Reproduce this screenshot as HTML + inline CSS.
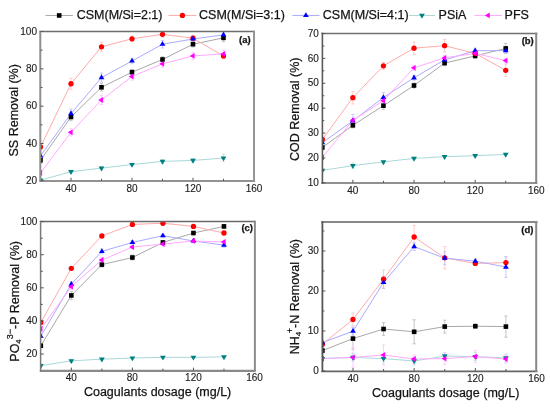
<!DOCTYPE html>
<html><head><meta charset="utf-8"><style>html,body{margin:0;padding:0;background:#fff;}body{width:550px;height:408px;position:relative;overflow:hidden;font-family:"Liberation Sans", sans-serif;}</style></head>
<body>
<svg width="550" height="408" viewBox="0 0 550 408" style="position:absolute;left:0;top:0;filter:blur(0.35px)" font-family='"Liberation Sans", sans-serif'>
<style>text{stroke:#1a1a1a;stroke-width:0.25px;}</style>
<rect width="550" height="408" fill="#fff"/>
<clipPath id="cpa"><rect x="40.5" y="31.5" width="213.5" height="149.3"/></clipPath><g clip-path="url(#cpa)">
<polyline points="40.50,160.27 71.00,116.97 101.50,87.30 132.00,72.18 162.50,59.49 193.00,44.19 223.50,37.85" fill="none" stroke="#a8a8a8" stroke-width="1"/>
<polyline points="40.50,147.02 71.00,83.76 101.50,46.80 132.00,38.78 162.50,34.30 193.00,38.22 223.50,55.95" fill="none" stroke="#ffaaaa" stroke-width="1"/>
<polyline points="40.50,155.79 71.00,113.62 101.50,77.60 132.00,60.99 162.50,44.19 193.00,38.97 223.50,34.86" fill="none" stroke="#aaaaff" stroke-width="1"/>
<polyline points="40.50,180.24 71.00,171.66 101.50,168.11 132.00,164.56 162.50,161.39 193.00,160.46 223.50,158.03" fill="none" stroke="#aad8d8" stroke-width="1"/>
<polyline points="40.50,172.96 71.00,132.28 101.50,99.99 132.00,76.48 162.50,63.79 193.00,55.95 223.50,53.89" fill="none" stroke="#ffaaff" stroke-width="1"/>
<path d="M40.50 157.47V163.07M38.90 157.47H42.10M38.90 163.07H42.10" stroke="#b8b8b8" stroke-width="0.8" fill="none"/>
<path d="M71.00 113.24V120.71M69.40 113.24H72.60M69.40 120.71H72.60" stroke="#b8b8b8" stroke-width="0.8" fill="none"/>
<path d="M101.50 83.57V91.03M99.90 83.57H103.10M99.90 91.03H103.10" stroke="#b8b8b8" stroke-width="0.8" fill="none"/>
<path d="M132.00 69.38V74.98M130.40 69.38H133.60M130.40 74.98H133.60" stroke="#b8b8b8" stroke-width="0.8" fill="none"/>
<path d="M162.50 56.69V62.29M160.90 56.69H164.10M160.90 62.29H164.10" stroke="#b8b8b8" stroke-width="0.8" fill="none"/>
<path d="M193.00 41.39V46.99M191.40 41.39H194.60M191.40 46.99H194.60" stroke="#b8b8b8" stroke-width="0.8" fill="none"/>
<path d="M223.50 34.11V41.58M221.90 34.11H225.10M221.90 41.58H225.10" stroke="#b8b8b8" stroke-width="0.8" fill="none"/>
<path d="M40.50 143.29V150.75M38.90 143.29H42.10M38.90 150.75H42.10" stroke="#ffc0c0" stroke-width="0.8" fill="none"/>
<path d="M71.00 78.16V89.35M69.40 78.16H72.60M69.40 89.35H72.60" stroke="#ffc0c0" stroke-width="0.8" fill="none"/>
<path d="M101.50 42.32V51.28M99.90 42.32H103.10M99.90 51.28H103.10" stroke="#ffc0c0" stroke-width="0.8" fill="none"/>
<path d="M132.00 35.98V41.58M130.40 35.98H133.60M130.40 41.58H133.60" stroke="#ffc0c0" stroke-width="0.8" fill="none"/>
<path d="M162.50 31.50V37.10M160.90 31.50H164.10M160.90 37.10H164.10" stroke="#ffc0c0" stroke-width="0.8" fill="none"/>
<path d="M193.00 35.42V41.02M191.40 35.42H194.60M191.40 41.02H194.60" stroke="#ffc0c0" stroke-width="0.8" fill="none"/>
<path d="M223.50 53.15V58.75M221.90 53.15H225.10M221.90 58.75H225.10" stroke="#ffc0c0" stroke-width="0.8" fill="none"/>
<path d="M40.50 152.99V158.59M38.90 152.99H42.10M38.90 158.59H42.10" stroke="#c0c0ff" stroke-width="0.8" fill="none"/>
<path d="M71.00 108.95V118.28M69.40 108.95H72.60M69.40 118.28H72.60" stroke="#c0c0ff" stroke-width="0.8" fill="none"/>
<path d="M101.50 73.12V82.08M99.90 73.12H103.10M99.90 82.08H103.10" stroke="#c0c0ff" stroke-width="0.8" fill="none"/>
<path d="M132.00 58.19V63.79M130.40 58.19H133.60M130.40 63.79H133.60" stroke="#c0c0ff" stroke-width="0.8" fill="none"/>
<path d="M162.50 40.46V47.92M160.90 40.46H164.10M160.90 47.92H164.10" stroke="#c0c0ff" stroke-width="0.8" fill="none"/>
<path d="M193.00 36.17V41.76M191.40 36.17H194.60M191.40 41.76H194.60" stroke="#c0c0ff" stroke-width="0.8" fill="none"/>
<path d="M223.50 32.06V37.66M221.90 32.06H225.10M221.90 37.66H225.10" stroke="#c0c0ff" stroke-width="0.8" fill="none"/>
<path d="M40.50 179.31V181.17M38.90 179.31H42.10M38.90 181.17H42.10" stroke="#b8e0e0" stroke-width="0.8" fill="none"/>
<path d="M71.00 170.16V173.15M69.40 170.16H72.60M69.40 173.15H72.60" stroke="#b8e0e0" stroke-width="0.8" fill="none"/>
<path d="M101.50 166.62V169.60M99.90 166.62H103.10M99.90 169.60H103.10" stroke="#b8e0e0" stroke-width="0.8" fill="none"/>
<path d="M132.00 163.07V166.06M130.40 163.07H133.60M130.40 166.06H133.60" stroke="#b8e0e0" stroke-width="0.8" fill="none"/>
<path d="M162.50 159.52V163.26M160.90 159.52H164.10M160.90 163.26H164.10" stroke="#b8e0e0" stroke-width="0.8" fill="none"/>
<path d="M193.00 158.59V162.32M191.40 158.59H194.60M191.40 162.32H194.60" stroke="#b8e0e0" stroke-width="0.8" fill="none"/>
<path d="M223.50 154.30V161.76M221.90 154.30H225.10M221.90 161.76H225.10" stroke="#b8e0e0" stroke-width="0.8" fill="none"/>
<path d="M40.50 170.16V175.76M38.90 170.16H42.10M38.90 175.76H42.10" stroke="#ffc0ff" stroke-width="0.8" fill="none"/>
<path d="M71.00 128.55V136.01M69.40 128.55H72.60M69.40 136.01H72.60" stroke="#ffc0ff" stroke-width="0.8" fill="none"/>
<path d="M101.50 95.51V104.47M99.90 95.51H103.10M99.90 104.47H103.10" stroke="#ffc0ff" stroke-width="0.8" fill="none"/>
<path d="M132.00 72.74V80.21M130.40 72.74H133.60M130.40 80.21H133.60" stroke="#ffc0ff" stroke-width="0.8" fill="none"/>
<path d="M162.50 60.05V67.52M160.90 60.05H164.10M160.90 67.52H164.10" stroke="#ffc0ff" stroke-width="0.8" fill="none"/>
<path d="M193.00 52.22V59.68M191.40 52.22H194.60M191.40 59.68H194.60" stroke="#ffc0ff" stroke-width="0.8" fill="none"/>
<path d="M223.50 50.16V57.63M221.90 50.16H225.10M221.90 57.63H225.10" stroke="#ffc0ff" stroke-width="0.8" fill="none"/>
<rect x="38.20" y="157.97" width="4.60" height="4.60" fill="#000000"/>
<rect x="68.70" y="114.67" width="4.60" height="4.60" fill="#000000"/>
<rect x="99.20" y="85.00" width="4.60" height="4.60" fill="#000000"/>
<rect x="129.70" y="69.88" width="4.60" height="4.60" fill="#000000"/>
<rect x="160.20" y="57.19" width="4.60" height="4.60" fill="#000000"/>
<rect x="190.70" y="41.89" width="4.60" height="4.60" fill="#000000"/>
<rect x="221.20" y="35.55" width="4.60" height="4.60" fill="#000000"/>
<circle cx="40.50" cy="147.02" r="2.65" fill="#ff0000"/>
<circle cx="71.00" cy="83.76" r="2.65" fill="#ff0000"/>
<circle cx="101.50" cy="46.80" r="2.65" fill="#ff0000"/>
<circle cx="132.00" cy="38.78" r="2.65" fill="#ff0000"/>
<circle cx="162.50" cy="34.30" r="2.65" fill="#ff0000"/>
<circle cx="193.00" cy="38.22" r="2.65" fill="#ff0000"/>
<circle cx="223.50" cy="55.95" r="2.65" fill="#ff0000"/>
<path d="M40.50 152.53L43.40 157.43L37.60 157.43Z" fill="#0000ff"/>
<path d="M71.00 110.35L73.90 115.25L68.10 115.25Z" fill="#0000ff"/>
<path d="M101.50 74.33L104.40 79.23L98.60 79.23Z" fill="#0000ff"/>
<path d="M132.00 57.72L134.90 62.62L129.10 62.62Z" fill="#0000ff"/>
<path d="M162.50 40.92L165.40 45.82L159.60 45.82Z" fill="#0000ff"/>
<path d="M193.00 35.70L195.90 40.60L190.10 40.60Z" fill="#0000ff"/>
<path d="M223.50 31.59L226.40 36.49L220.60 36.49Z" fill="#0000ff"/>
<path d="M40.50 183.51L43.40 178.61L37.60 178.61Z" fill="#008080"/>
<path d="M71.00 174.92L73.90 170.02L68.10 170.02Z" fill="#008080"/>
<path d="M101.50 171.38L104.40 166.48L98.60 166.48Z" fill="#008080"/>
<path d="M132.00 167.83L134.90 162.93L129.10 162.93Z" fill="#008080"/>
<path d="M162.50 164.66L165.40 159.76L159.60 159.76Z" fill="#008080"/>
<path d="M193.00 163.72L195.90 158.82L190.10 158.82Z" fill="#008080"/>
<path d="M223.50 161.30L226.40 156.40L220.60 156.40Z" fill="#008080"/>
<path d="M37.23 172.96L42.13 170.06L42.13 175.86Z" fill="#ff00ff"/>
<path d="M67.73 132.28L72.63 129.38L72.63 135.18Z" fill="#ff00ff"/>
<path d="M98.23 99.99L103.13 97.09L103.13 102.89Z" fill="#ff00ff"/>
<path d="M128.73 76.48L133.63 73.58L133.63 79.38Z" fill="#ff00ff"/>
<path d="M159.23 63.79L164.13 60.89L164.13 66.69Z" fill="#ff00ff"/>
<path d="M189.73 55.95L194.63 53.05L194.63 58.85Z" fill="#ff00ff"/>
<path d="M220.23 53.89L225.13 50.99L225.13 56.79Z" fill="#ff00ff"/>
</g>
<path d="M39.5 31.4H255" stroke="#6e6e6e" stroke-width="1.5"/>
<path d="M39.5 181H255" stroke="#929292" stroke-width="2"/>
<path d="M40.3 30.7V181.8" stroke="#8f8f8f" stroke-width="2"/>
<path d="M254 30.7V181.8" stroke="#959595" stroke-width="2"/>
<path d="M71.00 180.8V177.8" stroke="#555555" stroke-width="1"/>
<path d="M101.50 180.8V178.8" stroke="#555555" stroke-width="1"/>
<path d="M132.00 180.8V177.8" stroke="#555555" stroke-width="1"/>
<path d="M162.50 180.8V178.8" stroke="#555555" stroke-width="1"/>
<path d="M193.00 180.8V177.8" stroke="#555555" stroke-width="1"/>
<path d="M223.50 180.8V178.8" stroke="#555555" stroke-width="1"/>
<text x="71.00" y="191.50" font-size="10" text-anchor="middle" fill="#222" style="stroke-width:0.12px">40</text>
<text x="132.00" y="191.50" font-size="10" text-anchor="middle" fill="#222" style="stroke-width:0.12px">80</text>
<text x="193.00" y="191.50" font-size="10" text-anchor="middle" fill="#222" style="stroke-width:0.12px">120</text>
<text x="254.00" y="191.50" font-size="10" text-anchor="middle" fill="#222" style="stroke-width:0.12px">160</text>
<path d="M40.5 180.80H43.5" stroke="#555555" stroke-width="1"/>
<text x="37.00" y="184.00" font-size="10" text-anchor="end" fill="#222" style="stroke-width:0.12px">20</text>
<path d="M40.5 143.48H43.5" stroke="#555555" stroke-width="1"/>
<text x="37.00" y="146.68" font-size="10" text-anchor="end" fill="#222" style="stroke-width:0.12px">40</text>
<path d="M40.5 106.15H43.5" stroke="#555555" stroke-width="1"/>
<text x="37.00" y="109.35" font-size="10" text-anchor="end" fill="#222" style="stroke-width:0.12px">60</text>
<path d="M40.5 68.83H43.5" stroke="#555555" stroke-width="1"/>
<text x="37.00" y="72.03" font-size="10" text-anchor="end" fill="#222" style="stroke-width:0.12px">80</text>
<path d="M40.5 31.50H43.5" stroke="#555555" stroke-width="1"/>
<text x="37.00" y="34.70" font-size="10" text-anchor="end" fill="#222" style="stroke-width:0.12px">100</text>
<path d="M40.5 162.14H42.5" stroke="#555555" stroke-width="1"/>
<path d="M40.5 124.81H42.5" stroke="#555555" stroke-width="1"/>
<path d="M40.5 87.49H42.5" stroke="#555555" stroke-width="1"/>
<path d="M40.5 50.16H42.5" stroke="#555555" stroke-width="1"/>
<text x="250.6" y="42.6" font-size="9.5" font-weight="bold" text-anchor="end" fill="#111">(a)</text>
<clipPath id="cpb"><rect x="322.3" y="33.5" width="213.99999999999994" height="149.3"/></clipPath><g clip-path="url(#cpb)">
<polyline points="322.30,147.47 352.87,125.32 383.44,105.66 414.01,85.51 444.59,63.11 475.16,55.90 505.73,48.43" fill="none" stroke="#a8a8a8" stroke-width="1"/>
<polyline points="322.30,139.50 352.87,97.70 383.44,65.85 414.01,48.18 444.59,45.69 475.16,53.41 505.73,70.33" fill="none" stroke="#ffaaaa" stroke-width="1"/>
<polyline points="322.30,142.74 352.87,120.84 383.44,97.45 414.01,77.79 444.59,59.88 475.16,50.67 505.73,50.67" fill="none" stroke="#aaaaff" stroke-width="1"/>
<polyline points="322.30,170.36 352.87,165.63 383.44,161.90 414.01,158.41 444.59,156.67 475.16,155.68 505.73,154.43" fill="none" stroke="#aad8d8" stroke-width="1"/>
<polyline points="322.30,157.42 352.87,120.34 383.44,100.69 414.01,67.84 444.59,57.89 475.16,53.41 505.73,60.62" fill="none" stroke="#ffaaff" stroke-width="1"/>
<path d="M322.30 144.98V149.95M320.70 144.98H323.90M320.70 149.95H323.90" stroke="#b8b8b8" stroke-width="0.8" fill="none"/>
<path d="M352.87 122.83V127.81M351.27 122.83H354.47M351.27 127.81H354.47" stroke="#b8b8b8" stroke-width="0.8" fill="none"/>
<path d="M383.44 101.93V109.39M381.84 101.93H385.04M381.84 109.39H385.04" stroke="#b8b8b8" stroke-width="0.8" fill="none"/>
<path d="M414.01 83.02V87.99M412.41 83.02H415.61M412.41 87.99H415.61" stroke="#b8b8b8" stroke-width="0.8" fill="none"/>
<path d="M444.59 60.62V65.60M442.99 60.62H446.19M442.99 65.60H446.19" stroke="#b8b8b8" stroke-width="0.8" fill="none"/>
<path d="M475.16 53.41V58.38M473.56 53.41H476.76M473.56 58.38H476.76" stroke="#b8b8b8" stroke-width="0.8" fill="none"/>
<path d="M505.73 43.45V53.41M504.13 43.45H507.33M504.13 53.41H507.33" stroke="#b8b8b8" stroke-width="0.8" fill="none"/>
<path d="M322.30 137.01V141.99M320.70 137.01H323.90M320.70 141.99H323.90" stroke="#ffc0c0" stroke-width="0.8" fill="none"/>
<path d="M352.87 91.48V103.92M351.27 91.48H354.47M351.27 103.92H354.47" stroke="#ffc0c0" stroke-width="0.8" fill="none"/>
<path d="M383.44 62.12V69.58M381.84 62.12H385.04M381.84 69.58H385.04" stroke="#ffc0c0" stroke-width="0.8" fill="none"/>
<path d="M414.01 41.96V54.40M412.41 41.96H415.61M412.41 54.40H415.61" stroke="#ffc0c0" stroke-width="0.8" fill="none"/>
<path d="M444.59 39.47V51.91M442.99 39.47H446.19M442.99 51.91H446.19" stroke="#ffc0c0" stroke-width="0.8" fill="none"/>
<path d="M475.16 50.92V55.90M473.56 50.92H476.76M473.56 55.90H476.76" stroke="#ffc0c0" stroke-width="0.8" fill="none"/>
<path d="M505.73 64.11V76.55M504.13 64.11H507.33M504.13 76.55H507.33" stroke="#ffc0c0" stroke-width="0.8" fill="none"/>
<path d="M322.30 140.25V145.23M320.70 140.25H323.90M320.70 145.23H323.90" stroke="#c0c0ff" stroke-width="0.8" fill="none"/>
<path d="M352.87 114.62V127.06M351.27 114.62H354.47M351.27 127.06H354.47" stroke="#c0c0ff" stroke-width="0.8" fill="none"/>
<path d="M383.44 92.47V102.43M381.84 92.47H385.04M381.84 102.43H385.04" stroke="#c0c0ff" stroke-width="0.8" fill="none"/>
<path d="M414.01 75.30V80.28M412.41 75.30H415.61M412.41 80.28H415.61" stroke="#c0c0ff" stroke-width="0.8" fill="none"/>
<path d="M444.59 57.39V62.36M442.99 57.39H446.19M442.99 62.36H446.19" stroke="#c0c0ff" stroke-width="0.8" fill="none"/>
<path d="M475.16 48.18V53.16M473.56 48.18H476.76M473.56 53.16H476.76" stroke="#c0c0ff" stroke-width="0.8" fill="none"/>
<path d="M505.73 48.18V53.16M504.13 48.18H507.33M504.13 53.16H507.33" stroke="#c0c0ff" stroke-width="0.8" fill="none"/>
<path d="M322.30 169.11V171.60M320.70 169.11H323.90M320.70 171.60H323.90" stroke="#b8e0e0" stroke-width="0.8" fill="none"/>
<path d="M352.87 163.14V168.12M351.27 163.14H354.47M351.27 168.12H354.47" stroke="#b8e0e0" stroke-width="0.8" fill="none"/>
<path d="M383.44 160.65V163.14M381.84 160.65H385.04M381.84 163.14H385.04" stroke="#b8e0e0" stroke-width="0.8" fill="none"/>
<path d="M414.01 157.17V159.66M412.41 157.17H415.61M412.41 159.66H415.61" stroke="#b8e0e0" stroke-width="0.8" fill="none"/>
<path d="M444.59 155.43V157.92M442.99 155.43H446.19M442.99 157.92H446.19" stroke="#b8e0e0" stroke-width="0.8" fill="none"/>
<path d="M475.16 154.43V156.92M473.56 154.43H476.76M473.56 156.92H476.76" stroke="#b8e0e0" stroke-width="0.8" fill="none"/>
<path d="M505.73 153.19V155.68M504.13 153.19H507.33M504.13 155.68H507.33" stroke="#b8e0e0" stroke-width="0.8" fill="none"/>
<path d="M322.30 154.93V159.91M320.70 154.93H323.90M320.70 159.91H323.90" stroke="#ffc0ff" stroke-width="0.8" fill="none"/>
<path d="M352.87 117.85V122.83M351.27 117.85H354.47M351.27 122.83H354.47" stroke="#ffc0ff" stroke-width="0.8" fill="none"/>
<path d="M383.44 98.20V103.17M381.84 98.20H385.04M381.84 103.17H385.04" stroke="#ffc0ff" stroke-width="0.8" fill="none"/>
<path d="M414.01 65.35V70.33M412.41 65.35H415.61M412.41 70.33H415.61" stroke="#ffc0ff" stroke-width="0.8" fill="none"/>
<path d="M444.59 55.40V60.37M442.99 55.40H446.19M442.99 60.37H446.19" stroke="#ffc0ff" stroke-width="0.8" fill="none"/>
<path d="M475.16 50.92V55.90M473.56 50.92H476.76M473.56 55.90H476.76" stroke="#ffc0ff" stroke-width="0.8" fill="none"/>
<path d="M505.73 58.13V63.11M504.13 58.13H507.33M504.13 63.11H507.33" stroke="#ffc0ff" stroke-width="0.8" fill="none"/>
<rect x="320.00" y="145.17" width="4.60" height="4.60" fill="#000000"/>
<rect x="350.57" y="123.02" width="4.60" height="4.60" fill="#000000"/>
<rect x="381.14" y="103.36" width="4.60" height="4.60" fill="#000000"/>
<rect x="411.71" y="83.21" width="4.60" height="4.60" fill="#000000"/>
<rect x="442.29" y="60.81" width="4.60" height="4.60" fill="#000000"/>
<rect x="472.86" y="53.60" width="4.60" height="4.60" fill="#000000"/>
<rect x="503.43" y="46.13" width="4.60" height="4.60" fill="#000000"/>
<circle cx="322.30" cy="139.50" r="2.65" fill="#ff0000"/>
<circle cx="352.87" cy="97.70" r="2.65" fill="#ff0000"/>
<circle cx="383.44" cy="65.85" r="2.65" fill="#ff0000"/>
<circle cx="414.01" cy="48.18" r="2.65" fill="#ff0000"/>
<circle cx="444.59" cy="45.69" r="2.65" fill="#ff0000"/>
<circle cx="475.16" cy="53.41" r="2.65" fill="#ff0000"/>
<circle cx="505.73" cy="70.33" r="2.65" fill="#ff0000"/>
<path d="M322.30 139.47L325.20 144.37L319.40 144.37Z" fill="#0000ff"/>
<path d="M352.87 117.57L355.77 122.47L349.97 122.47Z" fill="#0000ff"/>
<path d="M383.44 94.18L386.34 99.08L380.54 99.08Z" fill="#0000ff"/>
<path d="M414.01 74.53L416.91 79.43L411.11 79.43Z" fill="#0000ff"/>
<path d="M444.59 56.61L447.49 61.51L441.69 61.51Z" fill="#0000ff"/>
<path d="M475.16 47.40L478.06 52.30L472.26 52.30Z" fill="#0000ff"/>
<path d="M505.73 47.40L508.63 52.30L502.83 52.30Z" fill="#0000ff"/>
<path d="M322.30 173.63L325.20 168.73L319.40 168.73Z" fill="#008080"/>
<path d="M352.87 168.90L355.77 164.00L349.97 164.00Z" fill="#008080"/>
<path d="M383.44 165.16L386.34 160.26L380.54 160.26Z" fill="#008080"/>
<path d="M414.01 161.68L416.91 156.78L411.11 156.78Z" fill="#008080"/>
<path d="M444.59 159.94L447.49 155.04L441.69 155.04Z" fill="#008080"/>
<path d="M475.16 158.94L478.06 154.04L472.26 154.04Z" fill="#008080"/>
<path d="M505.73 157.70L508.63 152.80L502.83 152.80Z" fill="#008080"/>
<path d="M319.03 157.42L323.93 154.52L323.93 160.32Z" fill="#ff00ff"/>
<path d="M349.60 120.34L354.50 117.44L354.50 123.24Z" fill="#ff00ff"/>
<path d="M380.18 100.69L385.08 97.78L385.08 103.59Z" fill="#ff00ff"/>
<path d="M410.75 67.84L415.65 64.94L415.65 70.74Z" fill="#ff00ff"/>
<path d="M441.32 57.89L446.22 54.99L446.22 60.79Z" fill="#ff00ff"/>
<path d="M471.89 53.41L476.79 50.51L476.79 56.31Z" fill="#ff00ff"/>
<path d="M502.46 60.62L507.36 57.72L507.36 63.52Z" fill="#ff00ff"/>
</g>
<path d="M321.3 33.5H537.3" stroke="#707070" stroke-width="1.7"/>
<path d="M321.3 182.9H537.3" stroke="#909090" stroke-width="2"/>
<path d="M322.4 32.7V183.8" stroke="#5a5a5a" stroke-width="1.6"/>
<path d="M536.2 32.7V183.8" stroke="#888888" stroke-width="2"/>
<path d="M352.87 182.8V179.8" stroke="#555555" stroke-width="1"/>
<path d="M383.44 182.8V180.8" stroke="#555555" stroke-width="1"/>
<path d="M414.01 182.8V179.8" stroke="#555555" stroke-width="1"/>
<path d="M444.59 182.8V180.8" stroke="#555555" stroke-width="1"/>
<path d="M475.16 182.8V179.8" stroke="#555555" stroke-width="1"/>
<path d="M505.73 182.8V180.8" stroke="#555555" stroke-width="1"/>
<text x="352.87" y="193.50" font-size="10" text-anchor="middle" fill="#222" style="stroke-width:0.12px">40</text>
<text x="414.01" y="193.50" font-size="10" text-anchor="middle" fill="#222" style="stroke-width:0.12px">80</text>
<text x="475.16" y="193.50" font-size="10" text-anchor="middle" fill="#222" style="stroke-width:0.12px">120</text>
<text x="536.30" y="193.50" font-size="10" text-anchor="middle" fill="#222" style="stroke-width:0.12px">160</text>
<path d="M322.3 182.80H325.3" stroke="#555555" stroke-width="1"/>
<text x="318.80" y="186.00" font-size="10" text-anchor="end" fill="#222" style="stroke-width:0.12px">10</text>
<path d="M322.3 157.92H325.3" stroke="#555555" stroke-width="1"/>
<text x="318.80" y="161.12" font-size="10" text-anchor="end" fill="#222" style="stroke-width:0.12px">20</text>
<path d="M322.3 133.03H325.3" stroke="#555555" stroke-width="1"/>
<text x="318.80" y="136.23" font-size="10" text-anchor="end" fill="#222" style="stroke-width:0.12px">30</text>
<path d="M322.3 108.15H325.3" stroke="#555555" stroke-width="1"/>
<text x="318.80" y="111.35" font-size="10" text-anchor="end" fill="#222" style="stroke-width:0.12px">40</text>
<path d="M322.3 83.27H325.3" stroke="#555555" stroke-width="1"/>
<text x="318.80" y="86.47" font-size="10" text-anchor="end" fill="#222" style="stroke-width:0.12px">50</text>
<path d="M322.3 58.38H325.3" stroke="#555555" stroke-width="1"/>
<text x="318.80" y="61.58" font-size="10" text-anchor="end" fill="#222" style="stroke-width:0.12px">60</text>
<path d="M322.3 33.50H325.3" stroke="#555555" stroke-width="1"/>
<text x="318.80" y="36.70" font-size="10" text-anchor="end" fill="#222" style="stroke-width:0.12px">70</text>
<path d="M322.3 170.36H324.3" stroke="#555555" stroke-width="1"/>
<path d="M322.3 145.48H324.3" stroke="#555555" stroke-width="1"/>
<path d="M322.3 120.59H324.3" stroke="#555555" stroke-width="1"/>
<path d="M322.3 95.71H324.3" stroke="#555555" stroke-width="1"/>
<path d="M322.3 70.83H324.3" stroke="#555555" stroke-width="1"/>
<path d="M322.3 45.94H324.3" stroke="#555555" stroke-width="1"/>
<text x="533.8" y="43.6" font-size="9.5" font-weight="bold" text-anchor="end" fill="#111">(b)</text>
<clipPath id="cpc"><rect x="40.8" y="221.6" width="213.7" height="149.00000000000003"/></clipPath><g clip-path="url(#cpc)">
<polyline points="40.80,345.77 71.33,295.44 101.86,264.64 132.39,257.53 162.91,242.46 193.44,233.02 223.97,226.40" fill="none" stroke="#a8a8a8" stroke-width="1"/>
<polyline points="40.80,322.42 71.33,268.29 101.86,236.00 132.39,224.41 162.91,223.26 193.44,226.40 223.97,233.02" fill="none" stroke="#ffaaaa" stroke-width="1"/>
<polyline points="40.80,336.33 71.33,284.18 101.86,251.40 132.39,242.46 162.91,235.67 193.44,240.97 223.97,245.11" fill="none" stroke="#aaaaff" stroke-width="1"/>
<polyline points="40.80,365.63 71.33,360.83 101.86,359.18 132.39,358.02 162.91,357.36 193.44,357.36 223.97,356.86" fill="none" stroke="#aad8d8" stroke-width="1"/>
<polyline points="40.80,328.88 71.33,286.66 101.86,260.01 132.39,247.10 162.91,244.12 193.44,240.97 223.97,241.96" fill="none" stroke="#ffaaff" stroke-width="1"/>
<path d="M40.80 344.11V347.42M39.20 344.11H42.40M39.20 347.42H42.40" stroke="#b8b8b8" stroke-width="0.8" fill="none"/>
<path d="M71.33 291.30V299.58M69.73 291.30H72.93M69.73 299.58H72.93" stroke="#b8b8b8" stroke-width="0.8" fill="none"/>
<path d="M101.86 262.16V267.13M100.26 262.16H103.46M100.26 267.13H103.46" stroke="#b8b8b8" stroke-width="0.8" fill="none"/>
<path d="M132.39 255.04V260.01M130.79 255.04H133.99M130.79 260.01H133.99" stroke="#b8b8b8" stroke-width="0.8" fill="none"/>
<path d="M162.91 240.80V244.12M161.31 240.80H164.51M161.31 244.12H164.51" stroke="#b8b8b8" stroke-width="0.8" fill="none"/>
<path d="M193.44 231.37V234.68M191.84 231.37H195.04M191.84 234.68H195.04" stroke="#b8b8b8" stroke-width="0.8" fill="none"/>
<path d="M223.97 224.75V228.06M222.37 224.75H225.57M222.37 228.06H225.57" stroke="#b8b8b8" stroke-width="0.8" fill="none"/>
<path d="M40.80 320.77V324.08M39.20 320.77H42.40M39.20 324.08H42.40" stroke="#ffc0c0" stroke-width="0.8" fill="none"/>
<path d="M71.33 266.63V269.94M69.73 266.63H72.93M69.73 269.94H72.93" stroke="#ffc0c0" stroke-width="0.8" fill="none"/>
<path d="M101.86 234.35V237.66M100.26 234.35H103.46M100.26 237.66H103.46" stroke="#ffc0c0" stroke-width="0.8" fill="none"/>
<path d="M132.39 222.76V226.07M130.79 222.76H133.99M130.79 226.07H133.99" stroke="#ffc0c0" stroke-width="0.8" fill="none"/>
<path d="M162.91 221.60V224.91M161.31 221.60H164.51M161.31 224.91H164.51" stroke="#ffc0c0" stroke-width="0.8" fill="none"/>
<path d="M193.44 224.75V228.06M191.84 224.75H195.04M191.84 228.06H195.04" stroke="#ffc0c0" stroke-width="0.8" fill="none"/>
<path d="M223.97 231.37V234.68M222.37 231.37H225.57M222.37 234.68H225.57" stroke="#ffc0c0" stroke-width="0.8" fill="none"/>
<path d="M40.80 334.67V337.99M39.20 334.67H42.40M39.20 337.99H42.40" stroke="#c0c0ff" stroke-width="0.8" fill="none"/>
<path d="M71.33 281.70V286.66M69.73 281.70H72.93M69.73 286.66H72.93" stroke="#c0c0ff" stroke-width="0.8" fill="none"/>
<path d="M101.86 248.92V253.88M100.26 248.92H103.46M100.26 253.88H103.46" stroke="#c0c0ff" stroke-width="0.8" fill="none"/>
<path d="M132.39 240.80V244.12M130.79 240.80H133.99M130.79 244.12H133.99" stroke="#c0c0ff" stroke-width="0.8" fill="none"/>
<path d="M162.91 234.02V237.33M161.31 234.02H164.51M161.31 237.33H164.51" stroke="#c0c0ff" stroke-width="0.8" fill="none"/>
<path d="M193.44 239.31V242.63M191.84 239.31H195.04M191.84 242.63H195.04" stroke="#c0c0ff" stroke-width="0.8" fill="none"/>
<path d="M223.97 242.63V247.59M222.37 242.63H225.57M222.37 247.59H225.57" stroke="#c0c0ff" stroke-width="0.8" fill="none"/>
<path d="M40.80 363.98V367.29M39.20 363.98H42.40M39.20 367.29H42.40" stroke="#b8e0e0" stroke-width="0.8" fill="none"/>
<path d="M71.33 359.18V362.49M69.73 359.18H72.93M69.73 362.49H72.93" stroke="#b8e0e0" stroke-width="0.8" fill="none"/>
<path d="M101.86 358.35V360.00M100.26 358.35H103.46M100.26 360.00H103.46" stroke="#b8e0e0" stroke-width="0.8" fill="none"/>
<path d="M132.39 357.19V358.85M130.79 357.19H133.99M130.79 358.85H133.99" stroke="#b8e0e0" stroke-width="0.8" fill="none"/>
<path d="M162.91 356.53V358.18M161.31 356.53H164.51M161.31 358.18H164.51" stroke="#b8e0e0" stroke-width="0.8" fill="none"/>
<path d="M193.44 356.53V358.18M191.84 356.53H195.04M191.84 358.18H195.04" stroke="#b8e0e0" stroke-width="0.8" fill="none"/>
<path d="M223.97 356.03V357.69M222.37 356.03H225.57M222.37 357.69H225.57" stroke="#b8e0e0" stroke-width="0.8" fill="none"/>
<path d="M40.80 327.22V330.54M39.20 327.22H42.40M39.20 330.54H42.40" stroke="#ffc0ff" stroke-width="0.8" fill="none"/>
<path d="M71.33 284.18V289.15M69.73 284.18H72.93M69.73 289.15H72.93" stroke="#ffc0ff" stroke-width="0.8" fill="none"/>
<path d="M101.86 257.53V262.49M100.26 257.53H103.46M100.26 262.49H103.46" stroke="#ffc0ff" stroke-width="0.8" fill="none"/>
<path d="M132.39 245.44V248.75M130.79 245.44H133.99M130.79 248.75H133.99" stroke="#ffc0ff" stroke-width="0.8" fill="none"/>
<path d="M162.91 242.46V245.77M161.31 242.46H164.51M161.31 245.77H164.51" stroke="#ffc0ff" stroke-width="0.8" fill="none"/>
<path d="M193.44 239.31V242.63M191.84 239.31H195.04M191.84 242.63H195.04" stroke="#ffc0ff" stroke-width="0.8" fill="none"/>
<path d="M223.97 240.31V243.62M222.37 240.31H225.57M222.37 243.62H225.57" stroke="#ffc0ff" stroke-width="0.8" fill="none"/>
<rect x="38.50" y="343.47" width="4.60" height="4.60" fill="#000000"/>
<rect x="69.03" y="293.14" width="4.60" height="4.60" fill="#000000"/>
<rect x="99.56" y="262.34" width="4.60" height="4.60" fill="#000000"/>
<rect x="130.09" y="255.23" width="4.60" height="4.60" fill="#000000"/>
<rect x="160.61" y="240.16" width="4.60" height="4.60" fill="#000000"/>
<rect x="191.14" y="230.72" width="4.60" height="4.60" fill="#000000"/>
<rect x="221.67" y="224.10" width="4.60" height="4.60" fill="#000000"/>
<circle cx="40.80" cy="322.42" r="2.65" fill="#ff0000"/>
<circle cx="71.33" cy="268.29" r="2.65" fill="#ff0000"/>
<circle cx="101.86" cy="236.00" r="2.65" fill="#ff0000"/>
<circle cx="132.39" cy="224.41" r="2.65" fill="#ff0000"/>
<circle cx="162.91" cy="223.26" r="2.65" fill="#ff0000"/>
<circle cx="193.44" cy="226.40" r="2.65" fill="#ff0000"/>
<circle cx="223.97" cy="233.02" r="2.65" fill="#ff0000"/>
<path d="M40.80 333.06L43.70 337.96L37.90 337.96Z" fill="#0000ff"/>
<path d="M71.33 280.91L74.23 285.81L68.43 285.81Z" fill="#0000ff"/>
<path d="M101.86 248.13L104.76 253.03L98.96 253.03Z" fill="#0000ff"/>
<path d="M132.39 239.19L135.29 244.09L129.49 244.09Z" fill="#0000ff"/>
<path d="M162.91 232.41L165.81 237.31L160.01 237.31Z" fill="#0000ff"/>
<path d="M193.44 237.70L196.34 242.60L190.54 242.60Z" fill="#0000ff"/>
<path d="M223.97 241.84L226.87 246.74L221.07 246.74Z" fill="#0000ff"/>
<path d="M40.80 368.90L43.70 364.00L37.90 364.00Z" fill="#008080"/>
<path d="M71.33 364.10L74.23 359.20L68.43 359.20Z" fill="#008080"/>
<path d="M101.86 362.44L104.76 357.54L98.96 357.54Z" fill="#008080"/>
<path d="M132.39 361.28L135.29 356.38L129.49 356.38Z" fill="#008080"/>
<path d="M162.91 360.62L165.81 355.72L160.01 355.72Z" fill="#008080"/>
<path d="M193.44 360.62L196.34 355.72L190.54 355.72Z" fill="#008080"/>
<path d="M223.97 360.13L226.87 355.23L221.07 355.23Z" fill="#008080"/>
<path d="M37.53 328.88L42.43 325.98L42.43 331.78Z" fill="#ff00ff"/>
<path d="M68.06 286.66L72.96 283.76L72.96 289.56Z" fill="#ff00ff"/>
<path d="M98.59 260.01L103.49 257.11L103.49 262.91Z" fill="#ff00ff"/>
<path d="M129.12 247.10L134.02 244.20L134.02 250.00Z" fill="#ff00ff"/>
<path d="M159.65 244.12L164.55 241.22L164.55 247.02Z" fill="#ff00ff"/>
<path d="M190.18 240.97L195.08 238.07L195.08 243.87Z" fill="#ff00ff"/>
<path d="M220.70 241.96L225.60 239.06L225.60 244.86Z" fill="#ff00ff"/>
</g>
<path d="M39.8 221.4H255.5" stroke="#6a6a6a" stroke-width="1.5"/>
<path d="M39.8 370.8H255.5" stroke="#8a8a8a" stroke-width="2.2"/>
<path d="M40.6 220.79999999999998V371.6" stroke="#7a7a7a" stroke-width="1.5"/>
<path d="M254.9 220.79999999999998V371.6" stroke="#8c8c8c" stroke-width="2"/>
<path d="M71.33 370.6V367.6" stroke="#555555" stroke-width="1"/>
<path d="M101.86 370.6V368.6" stroke="#555555" stroke-width="1"/>
<path d="M132.39 370.6V367.6" stroke="#555555" stroke-width="1"/>
<path d="M162.91 370.6V368.6" stroke="#555555" stroke-width="1"/>
<path d="M193.44 370.6V367.6" stroke="#555555" stroke-width="1"/>
<path d="M223.97 370.6V368.6" stroke="#555555" stroke-width="1"/>
<text x="71.33" y="381.30" font-size="10" text-anchor="middle" fill="#222" style="stroke-width:0.12px">40</text>
<text x="132.39" y="381.30" font-size="10" text-anchor="middle" fill="#222" style="stroke-width:0.12px">80</text>
<text x="193.44" y="381.30" font-size="10" text-anchor="middle" fill="#222" style="stroke-width:0.12px">120</text>
<text x="254.50" y="381.30" font-size="10" text-anchor="middle" fill="#222" style="stroke-width:0.12px">160</text>
<path d="M40.8 354.04H43.8" stroke="#555555" stroke-width="1"/>
<text x="37.30" y="357.24" font-size="10" text-anchor="end" fill="#222" style="stroke-width:0.12px">20</text>
<path d="M40.8 320.93H43.8" stroke="#555555" stroke-width="1"/>
<text x="37.30" y="324.13" font-size="10" text-anchor="end" fill="#222" style="stroke-width:0.12px">40</text>
<path d="M40.8 287.82H43.8" stroke="#555555" stroke-width="1"/>
<text x="37.30" y="291.02" font-size="10" text-anchor="end" fill="#222" style="stroke-width:0.12px">60</text>
<path d="M40.8 254.71H43.8" stroke="#555555" stroke-width="1"/>
<text x="37.30" y="257.91" font-size="10" text-anchor="end" fill="#222" style="stroke-width:0.12px">80</text>
<path d="M40.8 221.60H43.8" stroke="#555555" stroke-width="1"/>
<text x="37.30" y="224.80" font-size="10" text-anchor="end" fill="#222" style="stroke-width:0.12px">100</text>
<path d="M40.8 337.49H42.8" stroke="#555555" stroke-width="1"/>
<path d="M40.8 304.38H42.8" stroke="#555555" stroke-width="1"/>
<path d="M40.8 271.27H42.8" stroke="#555555" stroke-width="1"/>
<path d="M40.8 238.16H42.8" stroke="#555555" stroke-width="1"/>
<text x="253.0" y="231.4" font-size="9.5" font-weight="bold" text-anchor="end" fill="#111">(c)</text>
<clipPath id="cpd"><rect x="322.4" y="222" width="214.10000000000002" height="149"/></clipPath><g clip-path="url(#cpd)">
<polyline points="322.40,350.60 352.99,338.60 383.57,329.00 414.16,331.80 444.74,326.60 475.33,326.20 505.91,326.60" fill="none" stroke="#a8a8a8" stroke-width="1"/>
<polyline points="322.40,344.20 352.99,319.40 383.57,279.20 414.16,237.00 444.74,257.80 475.33,263.40 505.91,262.60" fill="none" stroke="#ffaaaa" stroke-width="1"/>
<polyline points="322.40,342.60 352.99,331.20 383.57,282.40 414.16,246.60 444.74,258.20 475.33,261.20 505.91,267.00" fill="none" stroke="#aaaaff" stroke-width="1"/>
<polyline points="322.40,358.60 352.99,357.40 383.57,358.60 414.16,361.00 444.74,356.00 475.33,356.60 505.91,358.00" fill="none" stroke="#aad8d8" stroke-width="1"/>
<polyline points="322.40,358.60 352.99,357.40 383.57,355.00 414.16,359.00 444.74,358.60 475.33,356.60 505.91,359.00" fill="none" stroke="#ffaaff" stroke-width="1"/>
<path d="M322.40 347.40V353.80M320.80 347.40H324.00M320.80 353.80H324.00" stroke="#b8b8b8" stroke-width="0.8" fill="none"/>
<path d="M352.99 327.80V349.40M351.39 327.80H354.59M351.39 349.40H354.59" stroke="#b8b8b8" stroke-width="0.8" fill="none"/>
<path d="M383.57 322.60V335.40M381.97 322.60H385.17M381.97 335.40H385.17" stroke="#b8b8b8" stroke-width="0.8" fill="none"/>
<path d="M414.16 319.80V343.80M412.56 319.80H415.76M412.56 343.80H415.76" stroke="#b8b8b8" stroke-width="0.8" fill="none"/>
<path d="M444.74 320.20V333.00M443.14 320.20H446.34M443.14 333.00H446.34" stroke="#b8b8b8" stroke-width="0.8" fill="none"/>
<path d="M475.33 324.20V328.20M473.73 324.20H476.93M473.73 328.20H476.93" stroke="#b8b8b8" stroke-width="0.8" fill="none"/>
<path d="M505.91 316.00V337.20M504.31 316.00H507.51M504.31 337.20H507.51" stroke="#b8b8b8" stroke-width="0.8" fill="none"/>
<path d="M322.40 341.00V347.40M320.80 341.00H324.00M320.80 347.40H324.00" stroke="#ffc0c0" stroke-width="0.8" fill="none"/>
<path d="M352.99 313.00V325.80M351.39 313.00H354.59M351.39 325.80H354.59" stroke="#ffc0c0" stroke-width="0.8" fill="none"/>
<path d="M383.57 270.00V288.40M381.97 270.00H385.17M381.97 288.40H385.17" stroke="#ffc0c0" stroke-width="0.8" fill="none"/>
<path d="M414.16 225.40V248.60M412.56 225.40H415.76M412.56 248.60H415.76" stroke="#ffc0c0" stroke-width="0.8" fill="none"/>
<path d="M444.74 246.60V269.00M443.14 246.60H446.34M443.14 269.00H446.34" stroke="#ffc0c0" stroke-width="0.8" fill="none"/>
<path d="M475.33 261.40V265.40M473.73 261.40H476.93M473.73 265.40H476.93" stroke="#ffc0c0" stroke-width="0.8" fill="none"/>
<path d="M505.91 256.60V268.60M504.31 256.60H507.51M504.31 268.60H507.51" stroke="#ffc0c0" stroke-width="0.8" fill="none"/>
<path d="M322.40 339.40V345.80M320.80 339.40H324.00M320.80 345.80H324.00" stroke="#c0c0ff" stroke-width="0.8" fill="none"/>
<path d="M352.99 327.20V335.20M351.39 327.20H354.59M351.39 335.20H354.59" stroke="#c0c0ff" stroke-width="0.8" fill="none"/>
<path d="M383.57 276.40V288.40M381.97 276.40H385.17M381.97 288.40H385.17" stroke="#c0c0ff" stroke-width="0.8" fill="none"/>
<path d="M414.16 242.60V250.60M412.56 242.60H415.76M412.56 250.60H415.76" stroke="#c0c0ff" stroke-width="0.8" fill="none"/>
<path d="M444.74 251.80V264.60M443.14 251.80H446.34M443.14 264.60H446.34" stroke="#c0c0ff" stroke-width="0.8" fill="none"/>
<path d="M475.33 259.20V263.20M473.73 259.20H476.93M473.73 263.20H476.93" stroke="#c0c0ff" stroke-width="0.8" fill="none"/>
<path d="M505.91 256.60V277.40M504.31 256.60H507.51M504.31 277.40H507.51" stroke="#c0c0ff" stroke-width="0.8" fill="none"/>
<path d="M322.40 356.60V360.60M320.80 356.60H324.00M320.80 360.60H324.00" stroke="#b8e0e0" stroke-width="0.8" fill="none"/>
<path d="M352.99 353.40V361.40M351.39 353.40H354.59M351.39 361.40H354.59" stroke="#b8e0e0" stroke-width="0.8" fill="none"/>
<path d="M383.57 354.60V362.60M381.97 354.60H385.17M381.97 362.60H385.17" stroke="#b8e0e0" stroke-width="0.8" fill="none"/>
<path d="M414.16 357.00V365.00M412.56 357.00H415.76M412.56 365.00H415.76" stroke="#b8e0e0" stroke-width="0.8" fill="none"/>
<path d="M444.74 352.80V359.20M443.14 352.80H446.34M443.14 359.20H446.34" stroke="#b8e0e0" stroke-width="0.8" fill="none"/>
<path d="M475.33 352.60V360.60M473.73 352.60H476.93M473.73 360.60H476.93" stroke="#b8e0e0" stroke-width="0.8" fill="none"/>
<path d="M505.91 354.00V362.00M504.31 354.00H507.51M504.31 362.00H507.51" stroke="#b8e0e0" stroke-width="0.8" fill="none"/>
<path d="M322.40 356.60V360.60M320.80 356.60H324.00M320.80 360.60H324.00" stroke="#ffc0ff" stroke-width="0.8" fill="none"/>
<path d="M352.99 347.40V367.40M351.39 347.40H354.59M351.39 367.40H354.59" stroke="#ffc0ff" stroke-width="0.8" fill="none"/>
<path d="M383.57 345.00V365.00M381.97 345.00H385.17M381.97 365.00H385.17" stroke="#ffc0ff" stroke-width="0.8" fill="none"/>
<path d="M414.16 355.00V363.00M412.56 355.00H415.76M412.56 363.00H415.76" stroke="#ffc0ff" stroke-width="0.8" fill="none"/>
<path d="M444.74 352.60V364.60M443.14 352.60H446.34M443.14 364.60H446.34" stroke="#ffc0ff" stroke-width="0.8" fill="none"/>
<path d="M475.33 350.60V362.60M473.73 350.60H476.93M473.73 362.60H476.93" stroke="#ffc0ff" stroke-width="0.8" fill="none"/>
<path d="M505.91 355.00V363.00M504.31 355.00H507.51M504.31 363.00H507.51" stroke="#ffc0ff" stroke-width="0.8" fill="none"/>
<rect x="320.10" y="348.30" width="4.60" height="4.60" fill="#000000"/>
<rect x="350.69" y="336.30" width="4.60" height="4.60" fill="#000000"/>
<rect x="381.27" y="326.70" width="4.60" height="4.60" fill="#000000"/>
<rect x="411.86" y="329.50" width="4.60" height="4.60" fill="#000000"/>
<rect x="442.44" y="324.30" width="4.60" height="4.60" fill="#000000"/>
<rect x="473.03" y="323.90" width="4.60" height="4.60" fill="#000000"/>
<rect x="503.61" y="324.30" width="4.60" height="4.60" fill="#000000"/>
<circle cx="322.40" cy="344.20" r="2.65" fill="#ff0000"/>
<circle cx="352.99" cy="319.40" r="2.65" fill="#ff0000"/>
<circle cx="383.57" cy="279.20" r="2.65" fill="#ff0000"/>
<circle cx="414.16" cy="237.00" r="2.65" fill="#ff0000"/>
<circle cx="444.74" cy="257.80" r="2.65" fill="#ff0000"/>
<circle cx="475.33" cy="263.40" r="2.65" fill="#ff0000"/>
<circle cx="505.91" cy="262.60" r="2.65" fill="#ff0000"/>
<path d="M322.40 339.33L325.30 344.23L319.50 344.23Z" fill="#0000ff"/>
<path d="M352.99 327.93L355.89 332.83L350.09 332.83Z" fill="#0000ff"/>
<path d="M383.57 279.13L386.47 284.03L380.67 284.03Z" fill="#0000ff"/>
<path d="M414.16 243.33L417.06 248.23L411.26 248.23Z" fill="#0000ff"/>
<path d="M444.74 254.93L447.64 259.83L441.84 259.83Z" fill="#0000ff"/>
<path d="M475.33 257.93L478.23 262.83L472.43 262.83Z" fill="#0000ff"/>
<path d="M505.91 263.73L508.81 268.63L503.01 268.63Z" fill="#0000ff"/>
<path d="M322.40 361.87L325.30 356.97L319.50 356.97Z" fill="#008080"/>
<path d="M352.99 360.67L355.89 355.77L350.09 355.77Z" fill="#008080"/>
<path d="M383.57 361.87L386.47 356.97L380.67 356.97Z" fill="#008080"/>
<path d="M414.16 364.27L417.06 359.37L411.26 359.37Z" fill="#008080"/>
<path d="M444.74 359.27L447.64 354.37L441.84 354.37Z" fill="#008080"/>
<path d="M475.33 359.87L478.23 354.97L472.43 354.97Z" fill="#008080"/>
<path d="M505.91 361.27L508.81 356.37L503.01 356.37Z" fill="#008080"/>
<path d="M319.13 358.60L324.03 355.70L324.03 361.50Z" fill="#ff00ff"/>
<path d="M349.72 357.40L354.62 354.50L354.62 360.30Z" fill="#ff00ff"/>
<path d="M380.30 355.00L385.20 352.10L385.20 357.90Z" fill="#ff00ff"/>
<path d="M410.89 359.00L415.79 356.10L415.79 361.90Z" fill="#ff00ff"/>
<path d="M441.48 358.60L446.38 355.70L446.38 361.50Z" fill="#ff00ff"/>
<path d="M472.06 356.60L476.96 353.70L476.96 359.50Z" fill="#ff00ff"/>
<path d="M502.65 359.00L507.55 356.10L507.55 361.90Z" fill="#ff00ff"/>
</g>
<path d="M321.4 222.1H537.5" stroke="#888888" stroke-width="2"/>
<path d="M321.4 371.4H537.5" stroke="#666666" stroke-width="1.7"/>
<path d="M322.4 221.2V372" stroke="#555555" stroke-width="1.8"/>
<path d="M536.2 221.2V372" stroke="#888888" stroke-width="2"/>
<path d="M352.99 371V368" stroke="#555555" stroke-width="1"/>
<path d="M383.57 371V369" stroke="#555555" stroke-width="1"/>
<path d="M414.16 371V368" stroke="#555555" stroke-width="1"/>
<path d="M444.74 371V369" stroke="#555555" stroke-width="1"/>
<path d="M475.33 371V368" stroke="#555555" stroke-width="1"/>
<path d="M505.91 371V369" stroke="#555555" stroke-width="1"/>
<text x="352.99" y="381.70" font-size="10" text-anchor="middle" fill="#222" style="stroke-width:0.12px">40</text>
<text x="414.16" y="381.70" font-size="10" text-anchor="middle" fill="#222" style="stroke-width:0.12px">80</text>
<text x="475.33" y="381.70" font-size="10" text-anchor="middle" fill="#222" style="stroke-width:0.12px">120</text>
<text x="536.50" y="381.70" font-size="10" text-anchor="middle" fill="#222" style="stroke-width:0.12px">160</text>
<path d="M322.4 371.00H325.4" stroke="#555555" stroke-width="1"/>
<text x="318.90" y="374.20" font-size="10" text-anchor="end" fill="#222" style="stroke-width:0.12px">0</text>
<path d="M322.4 331.00H325.4" stroke="#555555" stroke-width="1"/>
<text x="318.90" y="334.20" font-size="10" text-anchor="end" fill="#222" style="stroke-width:0.12px">10</text>
<path d="M322.4 291.00H325.4" stroke="#555555" stroke-width="1"/>
<text x="318.90" y="294.20" font-size="10" text-anchor="end" fill="#222" style="stroke-width:0.12px">20</text>
<path d="M322.4 251.00H325.4" stroke="#555555" stroke-width="1"/>
<text x="318.90" y="254.20" font-size="10" text-anchor="end" fill="#222" style="stroke-width:0.12px">30</text>
<path d="M322.4 351.00H324.4" stroke="#555555" stroke-width="1"/>
<path d="M322.4 311.00H324.4" stroke="#555555" stroke-width="1"/>
<path d="M322.4 271.00H324.4" stroke="#555555" stroke-width="1"/>
<path d="M322.4 231.00H324.4" stroke="#555555" stroke-width="1"/>
<text x="533.4" y="233.0" font-size="9.5" font-weight="bold" text-anchor="end" fill="#111">(d)</text>
<text transform="translate(18.4,156.5) rotate(-90)" font-size="12.5" fill="#111">SS Removal (%)</text>
<text transform="translate(299.0,161.0) rotate(-90)" font-size="12.5" fill="#111">COD Removal (%)</text>
<text transform="translate(18.5,361.7) rotate(-90)" font-size="12.5" fill="#111">PO<tspan font-size="7.8" dy="2.1">4</tspan><tspan font-size="9" dy="-7.7">3−</tspan><tspan dy="5.6">-P Removal (%)</tspan></text>
<text transform="translate(298.9,354.2) rotate(-90)" font-size="12.5" fill="#111">NH<tspan font-size="8" dy="2.2">4</tspan><tspan font-size="9" dy="-7.8" dx="-1.5">+</tspan><tspan dy="5.6">-N Removal (%)</tspan></text>
<text x="157.6" y="396" font-size="12.5" text-anchor="middle" fill="#111">Coagulants dosage (mg/L)</text>
<text x="445.7" y="397" font-size="12.5" text-anchor="middle" fill="#111">Coagulants dosage (mg/L)</text>
<path d="M45.5 15.45H72.9" stroke="#a8a8a8" stroke-width="1"/>
<rect x="56.90" y="13.15" width="4.60" height="4.60" fill="#000000"/>
<text x="76.7" y="19.45" font-size="12.5" fill="#111">CSM(M/Si=2:1)</text>
<path d="M168.5 15.45H196.3" stroke="#ffaaaa" stroke-width="1"/>
<circle cx="182.40" cy="15.45" r="2.65" fill="#ff0000"/>
<text x="199.1" y="19.45" font-size="12.5" fill="#111">CSM(M/Si=3:1)</text>
<path d="M292.3 15.45H319.5" stroke="#aaaaff" stroke-width="1"/>
<path d="M305.90 12.18L308.80 17.08L303.00 17.08Z" fill="#0000ff"/>
<text x="322.8" y="19.45" font-size="12.5" fill="#111">CSM(M/Si=4:1)</text>
<path d="M408.9 15.45H435" stroke="#aad8d8" stroke-width="1"/>
<path d="M421.95 18.72L424.85 13.82L419.05 13.82Z" fill="#008080"/>
<text x="438.59999999999997" y="19.45" font-size="12.5" fill="#111">PSiA</text>
<path d="M474.3 15.45H502" stroke="#ffaaff" stroke-width="1"/>
<path d="M484.88 15.45L489.78 12.55L489.78 18.35Z" fill="#ff00ff"/>
<text x="504.59999999999997" y="19.45" font-size="12.5" fill="#111">PFS</text>
</svg>
</body></html>
